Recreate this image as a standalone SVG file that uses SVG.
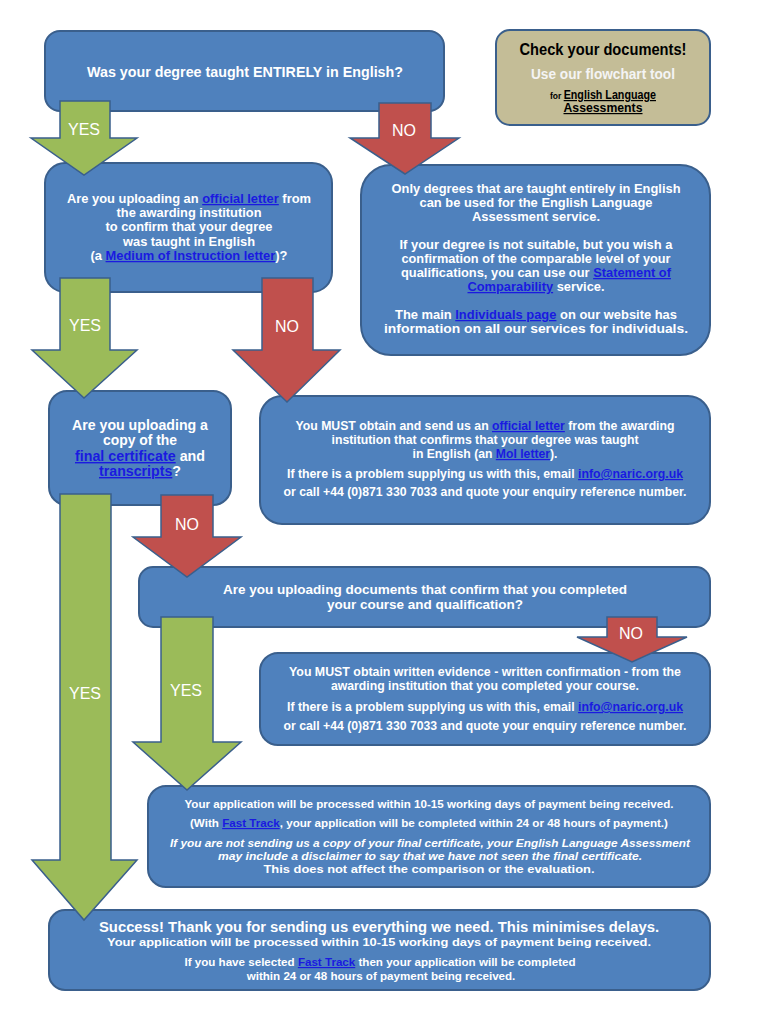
<svg xmlns="http://www.w3.org/2000/svg" width="768" height="1024" viewBox="0 0 768 1024">
<style>
.bg{fill:#ffffff}
.box{fill:#4F81BD;stroke:#3A5F8C;stroke-width:2}
.tan{fill:#C4BD97;stroke:#3A5F8C;stroke-width:2}
.t{font-family:"Liberation Sans",Arial,sans-serif;font-weight:bold;fill:#ffffff;text-anchor:middle}
.s125{font-size:12.5px}
.lk{fill:#1a1ae0;text-decoration:underline}
.yes{fill:#9BBB59;stroke:#3A5F8C;stroke-width:1.5}
.no{fill:#C0504D;stroke:#3A5F8C;stroke-width:1.5}
.lab{font-family:"Liberation Sans",Arial,sans-serif;fill:#ffffff;text-anchor:middle;font-size:16px}
.it{font-style:italic}
</style>
<rect class="bg" width="768" height="1024"/>

<g id="q1">
<rect class="box" x="45" y="31" width="399" height="80" rx="15"/>
<text class="t" x="245" y="77" style="font-size:14px" textLength="316" lengthAdjust="spacingAndGlyphs">Was your degree taught ENTIRELY in English?</text>
</g>

<g id="check">
<rect class="tan" x="496" y="30" width="214" height="95" rx="14"/>
<text class="t" x="603" y="55" style="font-size:16px;fill:#000" textLength="167" lengthAdjust="spacingAndGlyphs">Check your documents!</text>
<text class="t" x="603" y="79" style="font-size:14.5px;fill:#f4f4f4" textLength="144" lengthAdjust="spacingAndGlyphs">Use our flowchart tool</text>
<text class="t" x="603" y="99" style="font-size:12px;fill:#000" textLength="106" lengthAdjust="spacingAndGlyphs"><tspan style="font-size:9.5px">for </tspan><tspan text-decoration="underline">English Language</tspan></text>
<text class="t" x="603" y="112" style="font-size:12px;fill:#000" text-decoration="underline" textLength="79" lengthAdjust="spacingAndGlyphs">Assessments</text>
</g>

<g id="q2">
<rect class="box" x="45" y="163" width="287" height="129" rx="20"/>
<text class="t s125" x="189" y="203" textLength="244" lengthAdjust="spacingAndGlyphs">Are you uploading an <tspan class="lk">official letter</tspan> from</text>
<text class="t s125" x="189" y="217" textLength="145" lengthAdjust="spacingAndGlyphs">the awarding institution</text>
<text class="t s125" x="189" y="231" textLength="167" lengthAdjust="spacingAndGlyphs">to confirm that your degree</text>
<text class="t s125" x="189" y="246" textLength="132" lengthAdjust="spacingAndGlyphs">was taught in English</text>
<text class="t s125" x="189" y="260" textLength="197" lengthAdjust="spacingAndGlyphs">(a <tspan class="lk">Medium of Instruction letter</tspan>)?</text>
</g>

<g id="notEnglish">
<rect class="box" x="361" y="165" width="349" height="190" rx="30"/>
<text class="t s125" x="536" y="193" textLength="289" lengthAdjust="spacingAndGlyphs">Only degrees that are taught entirely in English</text>
<text class="t s125" x="536" y="207" textLength="233" lengthAdjust="spacingAndGlyphs">can be used for the English Language</text>
<text class="t s125" x="536" y="221" textLength="128" lengthAdjust="spacingAndGlyphs">Assessment service.</text>
<text class="t s125" x="536" y="249" textLength="273" lengthAdjust="spacingAndGlyphs">If your degree is not suitable, but you wish a</text>
<text class="t s125" x="536" y="263" textLength="269" lengthAdjust="spacingAndGlyphs">confirmation of the comparable level of your</text>
<text class="t s125" x="536" y="277" textLength="270" lengthAdjust="spacingAndGlyphs">qualifications, you can use our <tspan class="lk">Statement of</tspan></text>
<text class="t s125" x="536" y="291" textLength="137" lengthAdjust="spacingAndGlyphs"><tspan class="lk">Comparability</tspan> service.</text>
<text class="t s125" x="536" y="319" textLength="282" lengthAdjust="spacingAndGlyphs">The main <tspan class="lk">Individuals page</tspan> on our website has</text>
<text class="t s125" x="536" y="333" textLength="304" lengthAdjust="spacingAndGlyphs">information on all our services for individuals.</text>
</g>

<g id="q3">
<rect class="box" x="49" y="391" width="182" height="114" rx="18"/>
<text class="t" x="140" y="430" style="font-size:14px" textLength="136" lengthAdjust="spacingAndGlyphs">Are you uploading a</text>
<text class="t" x="140" y="445" style="font-size:14px" textLength="74" lengthAdjust="spacingAndGlyphs">copy of the</text>
<text class="t" x="140" y="461" style="font-size:14px" textLength="130" lengthAdjust="spacingAndGlyphs"><tspan class="lk">final certificate</tspan> and</text>
<text class="t" x="140" y="476" style="font-size:14px" textLength="82" lengthAdjust="spacingAndGlyphs"><tspan class="lk">transcripts</tspan>?</text>
</g>

<g id="mustLetter">
<rect class="box" x="260" y="396" width="450" height="128" rx="22"/>
<text class="t" x="485" y="430" style="font-size:12px" textLength="379" lengthAdjust="spacingAndGlyphs">You MUST obtain and send us an <tspan class="lk">official letter</tspan> from the awarding</text>
<text class="t" x="485" y="444" style="font-size:12px" textLength="307" lengthAdjust="spacingAndGlyphs">institution that confirms that your degree was taught</text>
<text class="t" x="485" y="458" style="font-size:12px" textLength="145" lengthAdjust="spacingAndGlyphs">in English (an <tspan class="lk">MoI letter</tspan>).</text>
<text class="t" x="485" y="478" style="font-size:12px" textLength="396" lengthAdjust="spacingAndGlyphs">If there is a problem supplying us with this, email <tspan class="lk">info@naric.org.uk</tspan></text>
<text class="t" x="485" y="496" style="font-size:12px" textLength="403" lengthAdjust="spacingAndGlyphs">or call +44 (0)871 330 7033 and quote your enquiry reference number.</text>
</g>

<g id="q4">
<rect class="box" x="139" y="567" width="571" height="60" rx="14"/>
<text class="t" x="425" y="594" style="font-size:13px" textLength="404" lengthAdjust="spacingAndGlyphs">Are you uploading documents that confirm that you completed</text>
<text class="t" x="425" y="609" style="font-size:13px" textLength="196" lengthAdjust="spacingAndGlyphs">your course and qualification?</text>
</g>

<g id="mustEvidence">
<rect class="box" x="260" y="653" width="450" height="92" rx="18"/>
<text class="t" x="485" y="676" style="font-size:12px" textLength="392" lengthAdjust="spacingAndGlyphs">You MUST obtain written evidence  - written confirmation - from the</text>
<text class="t" x="485" y="690" style="font-size:12px" textLength="308" lengthAdjust="spacingAndGlyphs">awarding institution that you completed your course.</text>
<text class="t" x="485" y="711" style="font-size:12px" textLength="396" lengthAdjust="spacingAndGlyphs">If there is a problem supplying us with this, email <tspan class="lk">info@naric.org.uk</tspan></text>
<text class="t" x="485" y="730" style="font-size:12px" textLength="403" lengthAdjust="spacingAndGlyphs">or call +44 (0)871 330 7033 and quote your enquiry reference number.</text>
</g>

<g id="processed">
<rect class="box" x="148" y="786" width="562" height="101" rx="18"/>
<text class="t" x="429" y="808" style="font-size:11.5px" textLength="489" lengthAdjust="spacingAndGlyphs">Your application will be processed within 10-15 working days of payment being received.</text>
<text class="t" x="429" y="827" style="font-size:11.5px" textLength="478" lengthAdjust="spacingAndGlyphs">(With <tspan class="lk">Fast Track</tspan>, your application will be completed within 24 or 48 hours of payment.)</text>
<text class="t it" x="430" y="847" style="font-size:11.5px" textLength="520" lengthAdjust="spacingAndGlyphs">If you are not sending us a copy of your final certificate, your English Language Assessment</text>
<text class="t it" x="430" y="860" style="font-size:11.5px" textLength="424" lengthAdjust="spacingAndGlyphs">may include a disclaimer to say that we have not seen the final certificate.</text>
<text class="t" x="429" y="873" style="font-size:11.5px" textLength="331" lengthAdjust="spacingAndGlyphs">This does not affect the comparison or the evaluation.</text>
</g>

<g id="success">
<rect class="box" x="49" y="910" width="661" height="80" rx="16"/>
<text class="t" x="379" y="932" style="font-size:14px" textLength="560" lengthAdjust="spacingAndGlyphs">Success! Thank you for sending us everything we need. This minimises delays.</text>
<text class="t" x="379" y="946" style="font-size:11.5px" textLength="544" lengthAdjust="spacingAndGlyphs">Your application will be processed within 10-15 working days of payment being received.</text>
<text class="t" x="380" y="966" style="font-size:11.6px">If you have selected <tspan class="lk">Fast Track</tspan> then your application will be completed</text>
<text class="t" x="381" y="980" style="font-size:11.6px">within 24 or 48 hours of payment being received.</text>
</g>

<g id="connectors">
<polygon class="yes" points="60,101 110,101 110,138 137,138 84,175 31,138 60,138"/>
<text class="lab" x="84" y="135">YES</text>
<polygon class="no" points="379,103 431,103 431,138 459,138 405,174 350,138 379,138"/>
<text class="lab" x="404" y="136">NO</text>
<polygon class="yes" points="60,278 110,278 110,350 137,350 84,398 32,350 60,350"/>
<text class="lab" x="85" y="331">YES</text>
<polygon class="no" points="262,278 313,278 313,350 340,350 287,402 233,350 262,350"/>
<text class="lab" x="287" y="332">NO</text>
<polygon class="yes" points="60,494 111,494 111,860 137,860 84,920 32,860 60,860"/>
<text class="lab" x="85" y="699">YES</text>
<polygon class="no" points="161,495 213,495 213,537 241,537 187,577 133,537 161,537"/>
<text class="lab" x="187" y="530">NO</text>
<polygon class="yes" points="161,617 213,617 213,742 241,742 187,790 133,742 161,742"/>
<text class="lab" x="186" y="696">YES</text>
<polygon class="no" points="607,617 657,617 657,637 687,637 632,662 577,637 607,637"/>
<text class="lab" x="631" y="639">NO</text>
</g>
</svg>
